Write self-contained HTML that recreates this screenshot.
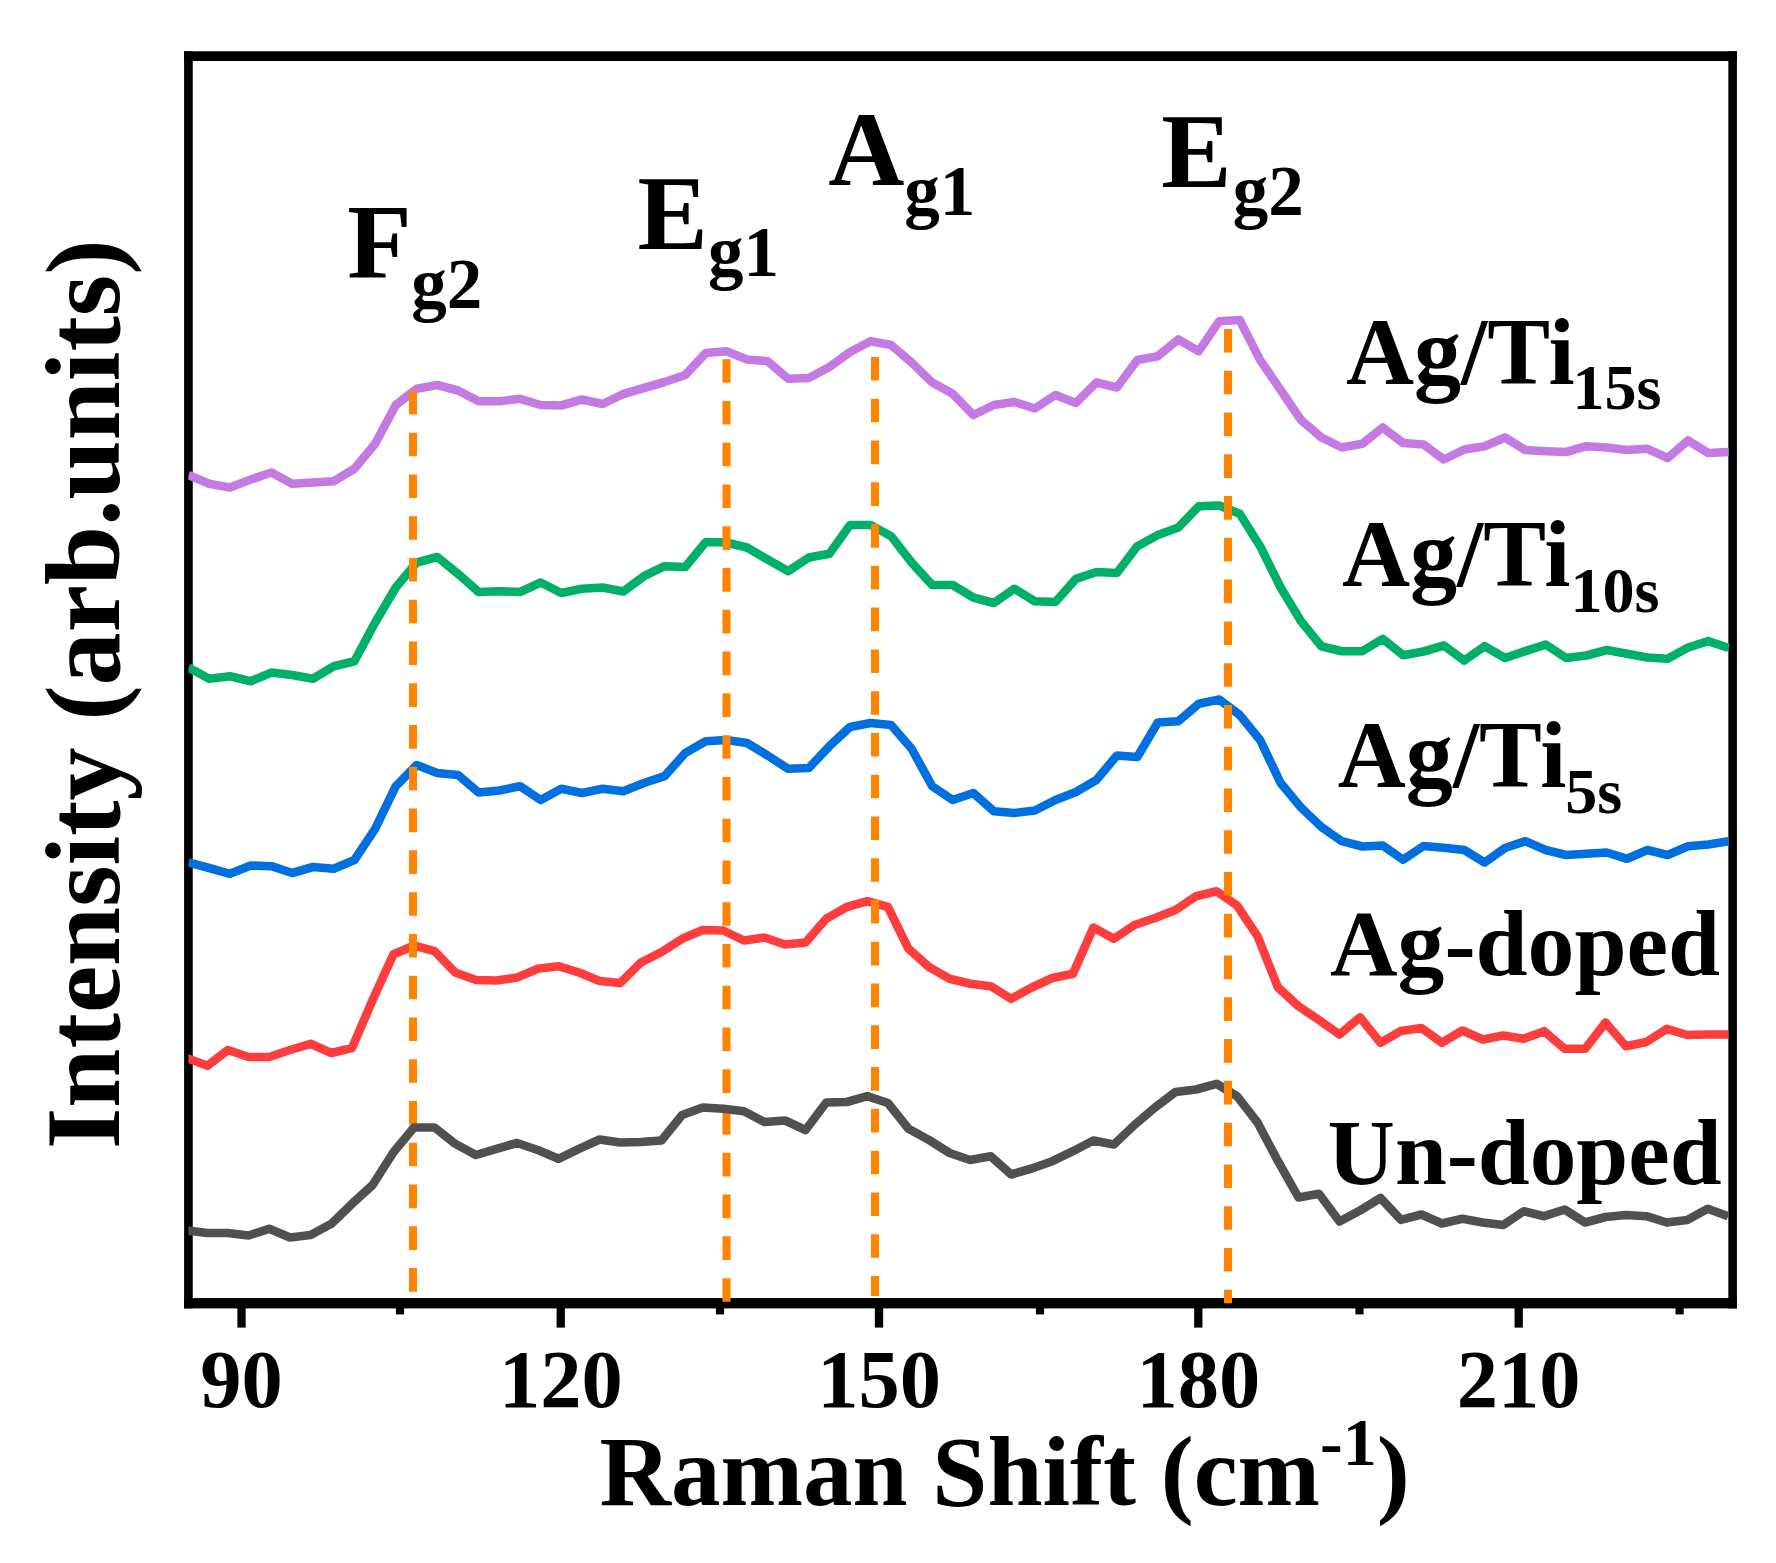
<!DOCTYPE html>
<html lang="en"><head><meta charset="utf-8"><title>Raman spectra</title>
<style>html,body{margin:0;padding:0;background:#fff}body{width:1776px;height:1563px;overflow:hidden}</style>
</head><body>
<svg width="1776" height="1563" viewBox="0 0 1776 1563" style="display:block;font-family:'Liberation Serif','Times New Roman',serif;font-weight:bold" fill="#000">
<rect width="1776" height="1563" fill="#fff"/>
<g id="frame">
<rect x="184.1" y="51.26" width="8.65" height="1257.14"/>
<rect x="1728.35" y="51.26" width="8.55" height="1257.14"/>
<rect x="184.1" y="51.26" width="1552.8" height="9.75"/>
<rect x="184.1" y="1298.06" width="1552.8" height="10.34"/>
</g>
<clipPath id="ax"><rect x="188.4" y="56.1" width="1544.2" height="1247.1"/></clipPath>
<g clip-path="url(#ax)">
<polyline points="188.4,475.0 209.2,483.8 229.9,487.5 250.7,479.5 271.5,472.5 292.2,483.8 312.9,482.5 333.7,481.2 354.4,468.8 375.1,443.8 395.8,405.0 416.6,388.8 437.3,385.0 458.0,390.5 478.6,401.2 499.3,401.2 520.0,398.8 540.7,405.0 561.3,405.5 582.0,399.5 602.6,404.0 623.3,394.0 643.9,388.0 664.6,382.0 685.2,375.0 705.8,353.0 726.4,351.2 747.0,359.5 767.6,361.2 788.2,378.8 808.8,378.0 829.4,367.0 850.0,352.0 870.5,341.2 891.1,345.0 911.6,362.5 932.2,382.5 952.7,393.8 973.3,415.0 993.8,405.0 1014.3,402.0 1034.8,408.5 1055.4,395.0 1075.9,403.0 1096.4,382.5 1116.9,387.5 1137.3,360.0 1157.8,356.2 1178.3,339.5 1198.8,351.2 1219.2,321.2 1239.7,320.0 1260.1,360.0 1280.6,390.0 1301.0,420.0 1321.4,437.5 1341.8,447.5 1362.3,443.8 1382.7,427.5 1403.1,443.0 1423.5,444.5 1443.9,459.5 1464.2,449.5 1484.6,446.2 1505.0,437.5 1525.3,450.0 1545.7,451.2 1566.1,452.0 1586.4,446.2 1606.7,447.5 1627.1,450.0 1647.4,448.8 1667.7,458.0 1688.0,440.5 1708.3,453.0 1728.6,452.0" fill="none" stroke="#C37AE2" stroke-width="8.6" stroke-linejoin="round" stroke-linecap="butt"/>
<polyline points="188.4,667.5 209.2,678.8 229.9,676.2 250.7,681.2 271.5,672.5 292.2,675.0 312.9,678.8 333.7,666.2 354.4,661.2 375.1,622.5 395.8,587.5 416.6,562.5 437.3,557.0 458.0,573.8 478.6,592.0 499.3,591.2 520.0,592.0 540.7,582.5 561.3,593.0 582.0,588.8 602.6,587.5 623.3,591.5 643.9,576.2 664.6,566.2 685.2,567.0 705.8,542.0 726.4,542.5 747.0,547.5 767.6,559.5 788.2,571.2 808.8,557.5 829.4,553.8 850.0,525.0 870.5,525.0 891.1,536.2 911.6,562.5 932.2,585.0 952.7,585.0 973.3,597.5 993.8,603.0 1014.3,588.8 1034.8,601.2 1055.4,602.0 1075.9,578.8 1096.4,572.0 1116.9,573.0 1137.3,546.2 1157.8,535.0 1178.3,527.5 1198.8,506.2 1219.2,505.5 1239.7,513.8 1260.1,546.2 1280.6,587.5 1301.0,621.2 1321.4,646.2 1341.8,651.2 1362.3,651.2 1382.7,638.8 1403.1,655.2 1423.5,651.5 1443.9,645.5 1464.2,660.5 1484.6,646.2 1505.0,658.0 1525.3,651.2 1545.7,644.5 1566.1,658.0 1586.4,655.5 1606.7,650.0 1627.1,653.8 1647.4,657.5 1667.7,658.8 1688.0,647.5 1708.3,641.2 1728.6,648.0" fill="none" stroke="#00AF68" stroke-width="8.6" stroke-linejoin="round" stroke-linecap="butt"/>
<polyline points="188.4,862.5 209.2,868.0 229.9,873.8 250.7,865.5 271.5,866.2 292.2,873.0 312.9,867.0 333.7,868.8 354.4,860.0 375.1,828.8 395.8,786.2 416.6,765.0 437.3,773.0 458.0,775.0 478.6,792.5 499.3,790.5 520.0,786.2 540.7,800.0 561.3,788.8 582.0,793.0 602.6,788.8 623.3,791.2 643.9,783.0 664.6,776.2 685.2,753.0 705.8,741.2 726.4,740.0 747.0,743.0 767.6,755.5 788.2,768.8 808.8,768.0 829.4,746.2 850.0,727.0 870.5,723.0 891.1,725.0 911.6,748.8 932.2,786.2 952.7,800.0 973.3,793.0 993.8,811.2 1014.3,813.0 1034.8,810.5 1055.4,800.0 1075.9,792.0 1096.4,780.0 1116.9,755.5 1137.3,757.0 1157.8,722.5 1178.3,721.2 1198.8,703.8 1219.2,699.5 1239.7,715.0 1260.1,740.0 1280.6,783.0 1301.0,807.5 1321.4,827.0 1341.8,841.2 1362.3,846.5 1382.7,845.5 1403.1,859.8 1423.5,846.0 1443.9,847.8 1464.2,850.0 1484.6,862.5 1505.0,848.0 1525.3,841.2 1545.7,850.0 1566.1,855.0 1586.4,853.8 1606.7,852.5 1627.1,858.8 1647.4,850.0 1667.7,855.0 1688.0,846.2 1708.3,844.5 1728.6,841.2" fill="none" stroke="#006FE0" stroke-width="8.6" stroke-linejoin="round" stroke-linecap="butt"/>
<polyline points="186.6,1058.0 207.3,1065.8 227.9,1050.0 248.6,1057.0 269.3,1057.0 290.0,1050.0 310.6,1043.8 331.3,1053.0 352.0,1048.0 372.6,1000.0 393.3,954.5 413.9,945.5 434.6,951.2 455.2,972.5 475.9,980.0 496.5,980.5 517.1,977.5 537.8,968.8 558.4,966.2 579.0,972.5 599.6,981.0 620.2,983.0 640.9,962.5 661.5,952.0 682.1,938.8 702.7,930.0 723.3,930.5 743.9,940.5 764.4,937.5 785.0,944.5 805.6,942.5 826.2,918.8 846.8,907.0 867.3,901.2 887.9,907.0 908.5,948.8 929.0,967.0 949.6,978.8 970.1,983.8 990.7,986.2 1011.2,998.8 1031.8,987.5 1052.3,978.0 1072.9,973.8 1093.4,927.5 1113.9,938.8 1134.4,925.0 1155.0,918.0 1175.5,910.0 1196.0,896.2 1216.5,891.2 1237.0,905.5 1257.5,936.2 1278.0,987.5 1298.5,1006.2 1319.0,1020.0 1339.5,1034.5 1360.0,1017.2 1380.5,1042.8 1400.9,1031.0 1421.4,1028.0 1441.9,1042.8 1462.3,1030.5 1482.8,1039.5 1503.3,1035.5 1523.7,1038.8 1544.2,1031.2 1564.6,1048.8 1585.1,1048.8 1605.5,1022.5 1625.9,1046.2 1646.4,1042.0 1666.8,1028.8 1687.2,1035.0 1707.7,1034.5 1728.1,1034.5" fill="none" stroke="#FF3D3D" stroke-width="8.6" stroke-linejoin="round" stroke-linecap="butt"/>
<line x1="413" y1="390.9" x2="413" y2="1292" stroke="#FF8400" stroke-width="8.1" stroke-dasharray="23.6 18.17"/>
<line x1="726.5" y1="359.2" x2="726.5" y2="1310" stroke="#FF8400" stroke-width="8.1" stroke-dasharray="23.6 18.17"/>
<line x1="875" y1="357" x2="875" y2="1296" stroke="#FF8400" stroke-width="8.1" stroke-dasharray="23.6 18.17"/>
<polyline points="186.6,1230.5 207.3,1233.0 227.9,1233.0 248.6,1235.5 269.3,1228.8 290.0,1237.5 310.6,1235.0 331.3,1223.8 352.0,1203.8 372.6,1185.0 393.3,1152.5 413.9,1127.5 434.6,1127.5 455.2,1143.8 475.9,1155.0 496.5,1148.8 517.1,1143.0 537.8,1150.0 558.4,1158.8 579.0,1148.8 599.6,1139.5 620.2,1142.5 640.9,1142.0 661.5,1140.5 682.1,1115.0 702.7,1107.5 723.3,1108.8 743.9,1111.2 764.4,1122.0 785.0,1120.5 805.6,1130.0 826.2,1102.5 846.8,1102.0 867.3,1096.2 887.9,1103.0 908.5,1128.8 929.0,1140.0 949.6,1153.0 970.1,1160.0 990.7,1156.2 1011.2,1174.5 1031.8,1168.5 1052.3,1161.2 1072.9,1151.2 1093.4,1140.5 1113.9,1144.5 1134.4,1125.0 1155.0,1107.5 1175.5,1092.0 1196.0,1089.5 1216.5,1083.8 1237.0,1096.2 1257.5,1122.5 1278.0,1161.2 1298.5,1197.5 1319.0,1193.8 1339.5,1221.5 1360.0,1210.5 1380.5,1198.0 1400.9,1219.8 1421.4,1214.5 1441.9,1223.5 1462.3,1218.8 1482.8,1222.5 1503.3,1225.0 1523.7,1211.2 1544.2,1216.2 1564.6,1209.5 1585.1,1222.5 1605.5,1217.0 1625.9,1215.0 1646.4,1216.2 1666.8,1222.5 1687.2,1220.0 1707.7,1208.8 1728.1,1216.2" fill="none" stroke="#505050" stroke-width="8.6" stroke-linejoin="round" stroke-linecap="butt"/>
<line x1="1228" y1="329" x2="1228" y2="1310" stroke="#FF8400" stroke-width="8.1" stroke-dasharray="23.6 18.17"/>
</g>
<line x1="241.5" y1="1303" x2="241.5" y2="1327.6" stroke="#000" stroke-width="8.3"/><line x1="560.75" y1="1303" x2="560.75" y2="1327.6" stroke="#000" stroke-width="8.3"/><line x1="879.0" y1="1303" x2="879.0" y2="1327.6" stroke="#000" stroke-width="8.3"/><line x1="1198.3" y1="1303" x2="1198.3" y2="1327.6" stroke="#000" stroke-width="8.3"/><line x1="1518.7" y1="1303" x2="1518.7" y2="1327.6" stroke="#000" stroke-width="8.3"/><line x1="400" y1="1303" x2="400" y2="1314.4" stroke="#000" stroke-width="8.2"/><line x1="720" y1="1303" x2="720" y2="1314.4" stroke="#000" stroke-width="8.2"/><line x1="1040" y1="1303" x2="1040" y2="1314.4" stroke="#000" stroke-width="8.2"/><line x1="1359.5" y1="1303" x2="1359.5" y2="1314.4" stroke="#000" stroke-width="8.2"/><line x1="1679.6" y1="1303" x2="1679.6" y2="1314.4" stroke="#000" stroke-width="8.2"/>
<text x="241.5" y="1407.2" font-size="82.5" text-anchor="middle">90</text><text x="560.75" y="1407.2" font-size="82.5" text-anchor="middle">120</text><text x="879.0" y="1407.2" font-size="82.5" text-anchor="middle">150</text><text x="1198.3" y="1407.2" font-size="82.5" text-anchor="middle">180</text><text x="1518.7" y="1407.2" font-size="82.5" text-anchor="middle">210</text>
<text x="599.6" y="1505.4" font-size="99">Raman Shift (cm<tspan font-size="68" dy="-40">-1</tspan><tspan dy="40">)</tspan></text>
<text transform="translate(118.9,1149) rotate(-90)" font-size="106.3">Intensity (arb.units)</text>
<text y="278.2" font-size="105.4"><tspan x="347.3">F</tspan><tspan x="411.3" font-size="71" dy="29.4">g2</tspan></text>
<text y="248.6" font-size="105.4"><tspan x="637.4">E</tspan><tspan x="707.9" font-size="71" dy="27.5">g1</tspan></text>
<text y="184.6" font-size="105.4"><tspan x="828.2">A</tspan><tspan x="904.3" font-size="71" dy="29.9">g1</tspan></text>
<text y="187" font-size="105.4"><tspan x="1161.2">E</tspan><tspan x="1232.7" font-size="71" dy="27.6">g2</tspan></text>
<text y="383.9" font-size="94.2"><tspan x="1346">Ag/Ti</tspan><tspan x="1572.6" font-size="64" dy="24.85">15s</tspan></text>
<text y="586.2" font-size="94.2"><tspan x="1341.9">Ag/Ti</tspan><tspan x="1570.5" font-size="64" dy="25.3">10s</tspan></text>
<text y="787" font-size="94.2"><tspan x="1337.8">Ag/Ti</tspan><tspan x="1565.3" font-size="64" dy="25.5">5s</tspan></text>
<text x="1330" y="975" font-size="93.6">Ag-doped</text>
<text x="1327.5" y="1184.2" font-size="93.3">Un-doped</text>
</svg>
</body></html>
